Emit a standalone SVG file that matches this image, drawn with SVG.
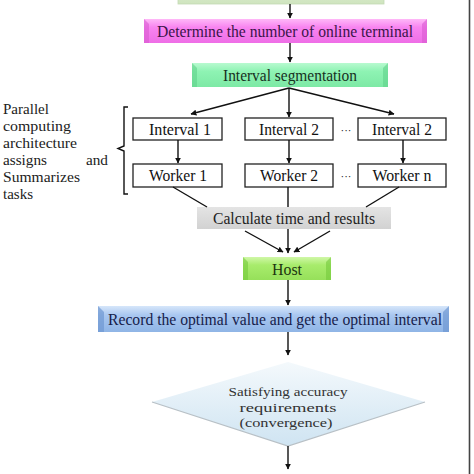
<svg xmlns="http://www.w3.org/2000/svg" width="474" height="474" viewBox="0 0 474 474">
<style>
text{font-family:"Liberation Serif","Times New Roman",serif;font-size:16px;fill:#111}
.box{fill:#fff;stroke:#222;stroke-width:1.3}
.ln{stroke:#111;stroke-width:1.4;fill:none}
.arr{marker-end:url(#ah)}
.lt{font-size:15px;fill:#222}
.dt{font-size:13.5px;fill:#333}
</style>
<defs>
<marker id="ah" viewBox="0 0 10 10" refX="9" refY="5" markerWidth="6" markerHeight="6" orient="auto" markerUnits="userSpaceOnUse"><path d="M0,0 L10,5 L0,10 z" fill="#111"/></marker>
<linearGradient id="gPink" x1="0" y1="0" x2="0" y2="1"><stop offset="0" stop-color="#ffb8f8"/><stop offset="0.35" stop-color="#f884f0"/><stop offset="1" stop-color="#ee6ee6"/></linearGradient>
<linearGradient id="gMint" x1="0" y1="0" x2="0" y2="1"><stop offset="0" stop-color="#b8fad0"/><stop offset="0.35" stop-color="#8ef3b3"/><stop offset="1" stop-color="#7de9a5"/></linearGradient>
<linearGradient id="gGray" x1="0" y1="0" x2="0" y2="1"><stop offset="0" stop-color="#e4e4e4"/><stop offset="1" stop-color="#d2d2d2"/></linearGradient>
<linearGradient id="gHost" x1="0" y1="0" x2="0" y2="1"><stop offset="0" stop-color="#d0f7a8"/><stop offset="0.35" stop-color="#a8ec6c"/><stop offset="1" stop-color="#96e05a"/></linearGradient>
<linearGradient id="gBlue" x1="0" y1="0" x2="0" y2="1"><stop offset="0" stop-color="#d6e6fa"/><stop offset="0.35" stop-color="#a9c7f0"/><stop offset="1" stop-color="#8fb5e6"/></linearGradient>
<linearGradient id="gDia" x1="0" y1="0" x2="0" y2="1"><stop offset="0" stop-color="#f4f9fc"/><stop offset="1" stop-color="#cfe4f2"/></linearGradient>
<linearGradient id="gTop" x1="0" y1="0" x2="0" y2="1"><stop offset="0" stop-color="#dbeccd"/><stop offset="1" stop-color="#cfe5bf"/></linearGradient>
</defs>

<line x1="469.5" y1="0" x2="469.5" y2="474" stroke="#444" stroke-width="1.6"/>

<g id="top-box">
<rect x="178" y="-10" width="206" height="14" fill="url(#gTop)" stroke="#c4dab4" stroke-width="0.8"/>
</g>

<g id="determine">
<rect x="144" y="19" width="283" height="24" fill="url(#gPink)"/>
<polygon points="144,19 149,24 149,43 144,43" fill="#d85ad0" opacity="0.6"/>
<polygon points="427,19 422,24 422,43 427,43" fill="#d85ad0" opacity="0.6"/>
<text x="285" y="36.5" text-anchor="middle" textLength="256" lengthAdjust="spacingAndGlyphs" style="font-size:17px;fill:#3a1448">Determine the number of online terminal</text>
</g>

<g id="segmentation">
<rect x="192" y="63" width="196" height="24" fill="url(#gMint)"/>
<polygon points="192,63 197,68 197,87 192,87" fill="#5fd28a" opacity="0.6"/>
<polygon points="388,63 383,68 383,87 388,87" fill="#5fd28a" opacity="0.6"/>
<text x="290" y="80.5" text-anchor="middle" textLength="134" lengthAdjust="spacingAndGlyphs" style="font-size:17px;fill:#17301f">Interval segmentation</text>
</g>

<g id="interval1"><rect class="box" x="133" y="118" width="89" height="22"/><text x="180" y="134.5" text-anchor="middle" textLength="62" lengthAdjust="spacingAndGlyphs">Interval 1</text></g>
<g id="interval2"><rect class="box" x="245" y="118" width="88" height="22"/><text x="289" y="134.5" text-anchor="middle" textLength="60" lengthAdjust="spacingAndGlyphs">Interval 2</text></g>
<g id="interval3"><rect class="box" x="358" y="118" width="88" height="22"/><text x="402" y="134.5" text-anchor="middle" textLength="60" lengthAdjust="spacingAndGlyphs">Interval 2</text></g>
<g id="worker1"><rect class="box" x="133" y="164" width="89" height="23"/><text x="178" y="181" text-anchor="middle" textLength="58" lengthAdjust="spacingAndGlyphs">Worker 1</text></g>
<g id="worker2"><rect class="box" x="245" y="164" width="88" height="23"/><text x="289" y="181" text-anchor="middle" textLength="58" lengthAdjust="spacingAndGlyphs">Worker 2</text></g>
<g id="workern"><rect class="box" x="358" y="164" width="88" height="23"/><text x="402" y="181" text-anchor="middle" textLength="59" lengthAdjust="spacingAndGlyphs">Worker n</text></g>
<g id="dots">
<text x="346" y="134" text-anchor="middle" style="font-size:11px">···</text>
<text x="346" y="180" text-anchor="middle" style="font-size:11px">···</text>
</g>

<g id="label">
<path d="M128,107 L124,107 L124,146 L118,148.5 L124,151 L124,194 L128,194" class="ln" stroke-width="1.2"/>
<text class="lt" x="3" y="114" textLength="46" lengthAdjust="spacingAndGlyphs">Parallel</text>
<text class="lt" x="3" y="131" textLength="68" lengthAdjust="spacingAndGlyphs">computing</text>
<text class="lt" x="3" y="148" textLength="74" lengthAdjust="spacingAndGlyphs">architecture</text>
<text class="lt" x="3" y="165" textLength="44" lengthAdjust="spacingAndGlyphs">assigns</text>
<text class="lt" x="108" y="165" text-anchor="end" textLength="22" lengthAdjust="spacingAndGlyphs">and</text>
<text class="lt" x="3" y="182" textLength="77" lengthAdjust="spacingAndGlyphs">Summarizes</text>
<text class="lt" x="3" y="199" textLength="30" lengthAdjust="spacingAndGlyphs">tasks</text>
</g>

<g id="calculate">
<rect x="197" y="207" width="194" height="22" fill="url(#gGray)"/>
<text x="294" y="223.5" text-anchor="middle" textLength="162" lengthAdjust="spacingAndGlyphs" style="font-size:17px;fill:#222">Calculate time and results</text>
</g>

<g id="host">
<rect x="243" y="257" width="88" height="23" fill="url(#gHost)"/>
<polygon points="243,257 248,262 248,280 243,280" fill="#74c93c" opacity="0.6"/>
<polygon points="331,257 326,262 326,280 331,280" fill="#74c93c" opacity="0.6"/>
<text x="287" y="274.5" text-anchor="middle" textLength="30" lengthAdjust="spacingAndGlyphs" style="font-size:17px;fill:#1d3510">Host</text>
</g>

<g id="record">
<rect x="98" y="306" width="351" height="26" fill="url(#gBlue)"/>
<polygon points="98,306 104,312 104,332 98,332" fill="#6d97d2" opacity="0.7"/>
<polygon points="449,306 443,312 443,332 449,332" fill="#6d97d2" opacity="0.7"/>
<text x="275" y="324.5" text-anchor="middle" textLength="334" lengthAdjust="spacingAndGlyphs" style="font-size:17px;fill:#16204a">Record the optimal value and get the optimal interval</text>
</g>

<g id="decision">
<polygon points="288,362 425,402 288,446 152,402" fill="url(#gDia)"/>
<polyline points="152,402 288,446 425,402" fill="none" stroke="#b8c0c6" stroke-width="1.2"/>
<text class="dt" x="288" y="396" text-anchor="middle" textLength="119" lengthAdjust="spacingAndGlyphs">Satisfying accuracy</text>
<text class="dt" x="288" y="411.5" text-anchor="middle" textLength="97" lengthAdjust="spacingAndGlyphs">requirements</text>
<text class="dt" x="286" y="427" text-anchor="middle" textLength="93" lengthAdjust="spacingAndGlyphs">(convergence)</text>
</g>

<g id="connectors">
<line class="ln arr" x1="290" y1="4" x2="290" y2="18"/>
<line class="ln arr" x1="290" y1="43" x2="290" y2="62"/>
<line class="ln arr" x1="289" y1="88" x2="191" y2="114"/>
<line class="ln arr" x1="289" y1="88" x2="289" y2="117"/>
<line class="ln arr" x1="289" y1="88" x2="394" y2="114"/>
<line class="ln arr" x1="178" y1="140" x2="178" y2="163"/>
<line class="ln arr" x1="289" y1="140" x2="289" y2="163"/>
<line class="ln arr" x1="403" y1="140" x2="403" y2="163"/>
<line class="ln" x1="173" y1="187" x2="207" y2="207"/>
<line class="ln" x1="288" y1="187" x2="288" y2="207"/>
<line class="ln" x1="399" y1="187" x2="366" y2="207"/>
<line class="ln arr" x1="245" y1="231" x2="283" y2="252"/>
<line class="ln arr" x1="288" y1="229" x2="288" y2="253"/>
<line class="ln arr" x1="330" y1="231" x2="294" y2="252"/>
<line class="ln arr" x1="288" y1="280" x2="288" y2="305"/>
<line class="ln arr" x1="288" y1="332" x2="288" y2="355"/>
<line class="ln arr" x1="288" y1="446" x2="288" y2="469"/>
</g>
</svg>
